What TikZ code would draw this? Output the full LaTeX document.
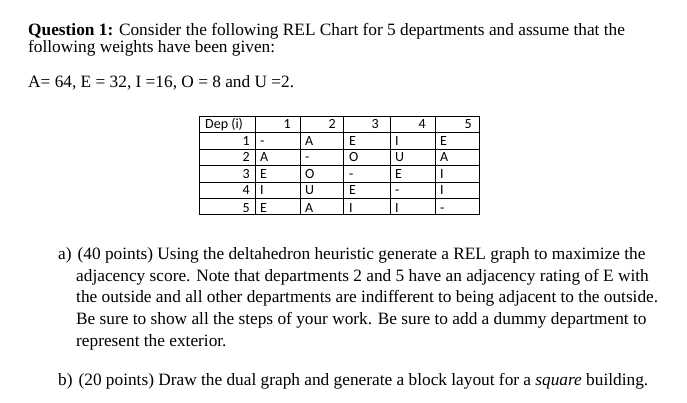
\documentclass[tikz,border=0pt]{standalone}
\usepackage{fontspec}
\setmainfont{Liberation Serif}
\newfontfamily\calfont{Carlito}
\begin{document}
\begin{tikzpicture}[x=1pt,y=-1pt,
  txt/.style={anchor=base west,inner sep=0pt,font=\fontsize{17.3}{20}\selectfont},
  cl/.style={anchor=base west,inner sep=0pt,font=\calfont\fontsize{14}{16}\selectfont},
  cr/.style={anchor=base east,inner sep=0pt,font=\calfont\fontsize{14}{16}\selectfont}]
\useasboundingbox (0,0) rectangle (687,403);
\node[txt] (l1) at (28,36) {\textbf{Question 1:} Consider the following REL Chart for 5 departments and assume that the};
\node[txt] (l2) at (28,53) {following weights have been given:};
\node[txt] (l3) at (28,88) {A= 64, E = 32, I =16, O = 8 and U =2.};
% table
\draw[line width=0.8pt] (199,116) rectangle (479,214);
\foreach \y in {132,149,165,182,198} \draw[line width=0.6pt] (199,\y) -- (479,\y);
\foreach \x in {255,300,343,390,435} \draw[line width=0.6pt] (\x,116) -- (\x,214);
\node[cl] (h0) at (205,129) {Dep (i)};
\node[cr] (h1) at (291,129) {1};
\node[cr] (h2) at (336,129) {2};
\node[cr] (h3) at (379,129) {3};
\node[cr] (h4) at (426,129) {4};
\node[cr] (h5) at (472,129) {5};
\foreach \r/\y/\a/\b/\c/\d/\e in {1/146/-/A/E/I/E, 2/162/A/-/O/U/A, 3/179/E/O/-/E/I, 4/195/I/U/E/-/I, 5/212/E/A/I/I/-}{
  \node[cr] at (250,\y) {\r};
  \node[cl] at (260,\y) {\a};
  \node[cl] at (305,\y) {\b};
  \node[cl] at (349,\y) {\c};
  \node[cl] at (395,\y) {\d};
  \node[cl] at (440,\y) {\e};
}
\node[txt] (a1) at (58,259) {a)\hspace{6pt}(40 points) Using the deltahedron heuristic generate a REL graph to maximize the};
\node[txt] (a2) at (76,281) {adjacency score. Note that departments 2 and 5 have an adjacency rating of E with};
\node[txt] (a3) at (76,302) {the outside and all other departments are indifferent to being adjacent to the outside.};
\node[txt] (a4) at (76,324) {Be sure to show all the steps of your work. Be sure to add a dummy department to};
\node[txt] (a5) at (76,346) {represent the exterior.};
\node[txt] (b1) at (58,385) {b)\hspace{6pt}(20 points) Draw the dual graph and generate a block layout for a \textit{square} building.};
\end{tikzpicture}
\end{document}
